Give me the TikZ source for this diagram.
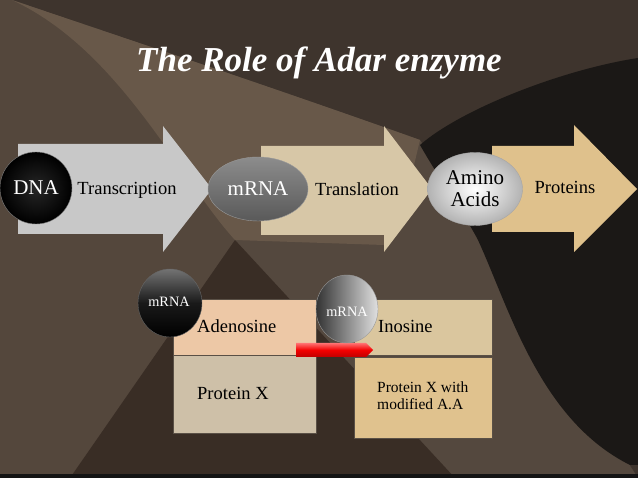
\documentclass[tikz,border=0pt]{standalone}
\usepackage{fontspec}
\setmainfont{Liberation Serif}
\usetikzlibrary{shapes.geometric}
\definecolor{bgtop}{RGB}{62,52,45}
\definecolor{bgmid}{RGB}{84,72,62}
\definecolor{bglight}{RGB}{104,88,73}
\definecolor{bgleft}{RGB}{84,71,60}
\definecolor{bgdark}{RGB}{57,45,37}
\definecolor{bgblack}{RGB}{27,24,22}
\definecolor{arrowA}{RGB}{200,200,200}
\definecolor{arrowB}{RGB}{215,199,167}
\definecolor{arrowC}{RGB}{223,193,140}
\definecolor{adenofill}{RGB}{237,200,166}
\definecolor{protxfill}{RGB}{206,192,168}
\definecolor{inofill}{RGB}{218,198,158}
\definecolor{protmfill}{RGB}{224,194,142}
\definecolor{boxline}{RGB}{90,80,70}
\tikzset{
  lbl/.style={anchor=base, inner sep=0pt, text=black},
  lblw/.style={anchor=base west, inner sep=0pt, text=black},
  bigtxt/.style={font=\fontsize{21}{24}\selectfont},
  midtxt/.style={font=\fontsize{18.5}{22}\selectfont},
  smalltxt/.style={font=\fontsize{15.5}{17}\selectfont},
  tinytxt/.style={font=\fontsize{14.3}{16}\selectfont},
  blob/.style={ellipse, inner sep=0pt, draw=black!60, line width=0.4pt},
  cellbox/.style={rectangle, anchor=north west, inner sep=0pt, draw=boxline, line width=0.6pt}
}
\begin{document}
\begin{tikzpicture}[x=1pt,y=-1pt]
\useasboundingbox (0,0) rectangle (638,478);
% background
\fill[bgtop] (0,0) rectangle (638,478);
\fill[bgmid] (12,0) .. controls (130,40) and (280,90) .. (420,140) -- (638,478) -- (0,478) -- cycle;
\fill[bgleft] (0,0) -- (12,0) .. controls (120,50) and (180,180) .. (235,240) -- (70,478) -- (0,478) -- cycle;
\fill[bglight] (12,0) .. controls (130,40) and (280,90) .. (420,140) -- (398,232) -- (384,245) -- (235,240) .. controls (180,180) and (120,50) .. (12,0) -- cycle;
\fill[bgdark] (235,240) -- (70,478) -- (455,478) -- cycle;
\fill[bgblack] (638,58) .. controls (560,70) and (460,110) .. (420,145) .. controls (440,180) and (465,215) .. (478,240) .. controls (510,310) and (540,420) .. (630,465) -- (638,465) -- cycle;
\fill[black!92] (0,474) rectangle (638,478);

% title
\node[anchor=base, inner sep=0pt, text=white, font=\fontsize{35}{40}\selectfont\bfseries\itshape] (title) at (319,72) {The Role of Adar enzyme};

% big arrows
\fill[arrowA] (18,144) -- (163,144) -- (163,126) -- (212,189) -- (163,252) -- (163,234) -- (18,234) -- cycle;
\fill[arrowB] (261,146) -- (384,146) -- (384,126) -- (432,189) -- (384,252) -- (384,235) -- (261,235) -- cycle;
\fill[arrowC] (492,146) -- (574,146) -- (574,125) -- (637,189) -- (574,252) -- (574,232) -- (492,232) -- cycle;

% ellipses
\node[blob, minimum width=72pt, minimum height=72pt, inner color=black!85, outer color=black, draw=black!50] (dna) at (36,188) {};
\node[blob, minimum width=100pt, minimum height=64pt, top color=black!45, bottom color=black!65, draw=black!40] (mrna) at (258,189) {};
\node[blob, minimum width=95pt, minimum height=73pt, inner color=white, outer color=black!30, draw=black!35] (amino) at (475,189) {};

\node[lbl, bigtxt, text=white] (dnat) at (36,195) {DNA};
\node[lbl, midtxt] (trans) at (127,195) {Transcription};
\node[lbl, bigtxt, text=white] (mrnat) at (258,196) {mRNA};
\node[lbl, midtxt] (transl) at (357,196) {Translation};
\node[lbl, bigtxt] (aminot) at (475,185) {Amino};
\node[lbl, bigtxt] (acidst) at (475,207) {Acids};
\node[lbl, midtxt] (prot) at (565,194) {Proteins};

% lower boxes
\node[cellbox, fill=adenofill, minimum width=143pt, minimum height=56pt] (adenobox) at (173,299) {};
\node[cellbox, fill=protxfill, minimum width=143pt, minimum height=78pt] (protxbox) at (173,355) {};
\node[cellbox, fill=inofill, minimum width=138pt, minimum height=56pt] (inobox) at (354,299) {};
\node[cellbox, fill=protmfill, minimum width=138pt, minimum height=81pt] (protmbox) at (354,357) {};

\node[lblw, midtxt] (adeno) at (197,333) {Adenosine};
\node[lblw, midtxt] (ino) at (378,333) {Inosine};
\node[lblw, midtxt] (protx) at (197,400) {Protein X};
\node[lblw, smalltxt] (protm1) at (377,393) {Protein X with};
\node[lblw, smalltxt] (protm2) at (377,410) {modified A.A};

% red arrow
\coordinate (ra) at (296,350);
\coordinate (rb) at (373,350);
\path[top color=red!55!white, bottom color=red!75!black, middle color=red!95!black]
  (296,343) -- (366,343) -- (rb) -- (366,357) -- (296,357) -- cycle;

% small mRNA blobs
\node[blob, minimum width=64pt, minimum height=68pt, top color=black!55, bottom color=black, middle color=black!90, draw=black!60] (mrnaA) at (170,303) {};
\node[blob, minimum width=62pt, minimum height=68pt, left color=black!80, right color=black!12, draw=black!40] (mrnaB) at (347,309) {};
\node[lbl, tinytxt, text=white] (mrnaAt) at (169,307) {mRNA};
\node[lbl, tinytxt, text=white] (mrnaBt) at (347,317) {mRNA};
\end{tikzpicture}
\end{document}
